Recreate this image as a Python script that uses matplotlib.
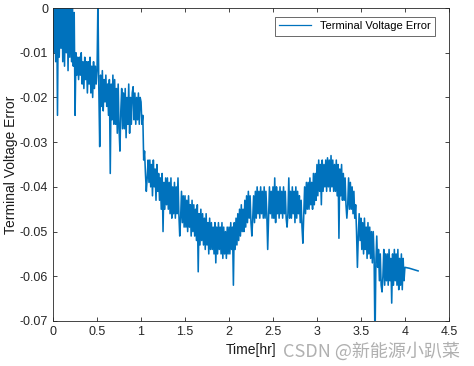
import numpy as np
import matplotlib
matplotlib.use("Agg")
import matplotlib.pyplot as plt

plt.rcParams['font.family'] = ['Liberation Sans', 'DejaVu Sans']
plt.rcParams['axes.unicode_minus'] = False

# sampling interval of the recorded signal (hours)
dt = 0.01

# Terminal voltage error, one row per 0.1 hr
err_rows = [
    [0.003, -0.010, 0.002, -0.012, 0.004, -0.024, 0.003, -0.011, 0.002, -0.009],
    [0.002, -0.012, 0.003, -0.013, 0.001, -0.010, 0.004, -0.014, 0.002, -0.011],
    [0.003, -0.012, 0.002, -0.013, -0.001, -0.024, -0.010, -0.015, -0.011, -0.016],
    [-0.011, -0.015, -0.010, -0.017, -0.012, -0.018, -0.011, -0.016, -0.012, -0.019],
    [-0.012, -0.017, -0.011, -0.019, -0.013, -0.020, -0.012, -0.018, -0.013, -0.017],
    [-0.014, 0.002, -0.018, -0.031, -0.015, -0.022, -0.014, -0.023, -0.016, -0.021],
    [-0.015, -0.022, -0.017, -0.024, -0.016, -0.037, -0.017, -0.025, -0.015, -0.026],
    [-0.016, -0.026, -0.018, -0.028, -0.017, -0.027, -0.032, -0.023, -0.018, -0.027],
    [-0.019, -0.027, -0.018, -0.029, -0.020, -0.026, -0.017, -0.028, -0.020, -0.026],
    [-0.019, -0.0176, -0.025, -0.019, -0.026, -0.020, -0.025, -0.019, -0.026, -0.020],
    [-0.021, -0.026, -0.024, -0.034, -0.032, -0.037, -0.041, -0.038, -0.034, -0.039],
    [-0.034, -0.040, -0.035, -0.042, -0.034, -0.040, -0.036, -0.043, -0.035, -0.041],
    [-0.037, -0.043, -0.038, -0.045, -0.037, -0.050, -0.039, -0.045, -0.038, -0.044],
    [-0.038, -0.045, -0.039, -0.046, -0.038, -0.047, -0.040, -0.046, -0.039, -0.047],
    [-0.040, -0.046, -0.038, -0.046, -0.051, -0.047, -0.041, -0.048, -0.042, -0.049],
    [-0.042, -0.049, -0.043, -0.050, -0.042, -0.049, -0.044, -0.051, -0.043, -0.050],
    [-0.044, -0.051, -0.045, -0.052, -0.044, -0.059, -0.046, -0.053, -0.045, -0.052],
    [-0.046, -0.053, -0.047, -0.054, -0.046, -0.053, -0.048, -0.055, -0.047, -0.054],
    [-0.048, -0.054, -0.049, -0.055, -0.048, -0.057, -0.049, -0.055, -0.048, -0.054],
    [-0.049, -0.055, -0.048, -0.056, -0.049, -0.055, -0.050, -0.056, -0.049, -0.055],
    [-0.049, -0.055, -0.048, -0.054, -0.049, -0.062, -0.048, -0.054, -0.047, -0.053],
    [-0.046, -0.052, -0.045, -0.051, -0.044, -0.050, -0.045, -0.050, -0.043, -0.049],
    [-0.042, -0.048, -0.041, -0.047, -0.042, -0.048, -0.051, -0.047, -0.042, -0.048],
    [-0.041, -0.047, -0.040, -0.046, -0.041, -0.047, -0.040, -0.046, -0.041, -0.047],
    [-0.040, -0.047, -0.041, -0.046, -0.054, -0.047, -0.040, -0.046, -0.041, -0.047],
    [-0.040, -0.047, -0.038, -0.048, -0.040, -0.046, -0.041, -0.047, -0.040, -0.046],
    [-0.041, -0.047, -0.040, -0.046, -0.041, -0.047, -0.049, -0.046, -0.038, -0.047],
    [-0.041, -0.047, -0.040, -0.046, -0.041, -0.048, -0.040, -0.047, -0.041, -0.046],
    [-0.042, -0.048, -0.043, -0.049, -0.0526, -0.046, -0.040, -0.046, -0.039, -0.045],
    [-0.039, -0.045, -0.038, -0.044, -0.039, -0.045, -0.037, -0.044, -0.037, -0.043],
    [-0.035, -0.042, -0.034, -0.041, -0.035, -0.044, -0.034, -0.041, -0.035, -0.040],
    [-0.034, -0.041, -0.0335, -0.040, -0.034, -0.041, -0.033, -0.040, -0.034, -0.041],
    [-0.035, -0.041, -0.034, -0.042, -0.035, -0.0515, -0.036, -0.042, -0.035, -0.043],
    [-0.037, -0.043, -0.038, -0.044, -0.047, -0.044, -0.038, -0.045, -0.039, -0.045],
    [-0.040, -0.046, -0.041, -0.047, -0.044, -0.050, -0.058, -0.051, -0.046, -0.052],
    [-0.047, -0.054, -0.048, -0.055, -0.047, -0.054, -0.049, -0.056, -0.048, -0.055],
    [-0.049, -0.056, -0.050, -0.057, -0.050, -0.056, -0.075, -0.057, -0.051, -0.058],
    [-0.054, -0.061, -0.055, -0.062, -0.0635, -0.060, -0.054, -0.062, -0.055, -0.061],
    [-0.055, -0.062, -0.054, -0.061, -0.056, -0.066, -0.055, -0.062, -0.054, -0.061],
    [-0.055, -0.062, -0.054, -0.063, -0.056, -0.062, -0.055, -0.063, -0.056, -0.061],
    [-0.058],
]

# slow tail after the dense record
tail_t = [4.05, 4.10, 4.15]
tail_v = [-0.0582, -0.0585, -0.0588]

x_ticks = [0, 0.5, 1, 1.5, 2, 2.5, 3, 3.5, 4, 4.5]
y_ticks = [0, -0.01, -0.02, -0.03, -0.04, -0.05, -0.06, -0.07]
y_tick_labels = ["0", "-0.01", "-0.02", "-0.03", "-0.04", "-0.05", "-0.06", "-0.07"]

err = np.concatenate([np.array(r, dtype=float) for r in err_rows])
t = np.arange(len(err)) * dt
t = np.concatenate([t, tail_t])
err = np.concatenate([err, tail_v])

fig = plt.figure(figsize=(4.74, 3.66), dpi=100)
ax = fig.add_axes([0.112, 0.123, 0.835, 0.855])
ax.plot(t, err, color='#0072BD', linewidth=1.15, label='Terminal Voltage Error')

ax.set_xlim(0, 4.5)
ax.set_ylim(-0.07, 0)
ax.set_xticks(x_ticks)
ax.set_xticklabels([f"{v:g}" for v in x_ticks])
ax.set_yticks(y_ticks)
ax.set_yticklabels(y_tick_labels)

axc = '#262626'
for s in ax.spines.values():
    s.set_color(axc)
    s.set_linewidth(0.6)
ax.tick_params(direction='in', top=True, right=True, length=3, width=0.6,
               colors=axc, labelsize=9, labelcolor=axc)
ax.set_xlabel('Time[hr]', fontsize=10, color='#1a1a1a', labelpad=4)
ax.set_ylabel('Terminal Voltage Error', fontsize=10, color='#1a1a1a', labelpad=1)

leg = ax.legend(loc='upper right', fontsize=8, frameon=True, fancybox=False,
                handlelength=2.9, borderpad=0.4, bbox_to_anchor=(0.98, 0.99))
leg.get_frame().set_edgecolor(axc)
leg.get_frame().set_linewidth(0.6)
for h in leg.get_lines():
    h.set_linewidth(0.9)

fig.text(0.97, 0.04, 'CSDN @新能源小趴菜', ha='right', va='center', fontsize=13,
         color='#b0b0b0', family=['Noto Sans CJK SC', 'DejaVu Sans'])

fig.savefig('out.png', dpi=100)
